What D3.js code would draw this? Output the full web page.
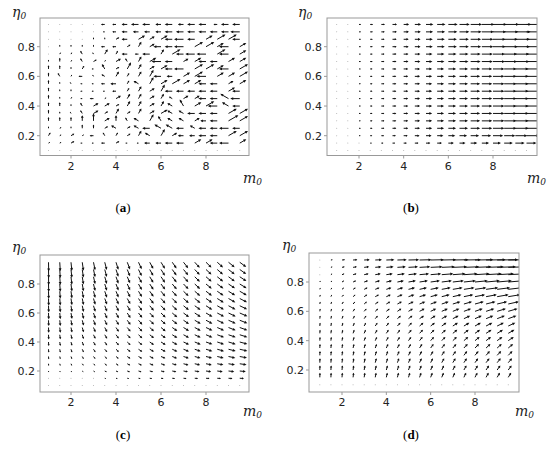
<!DOCTYPE html>
<html>
<head>
<meta charset="utf-8">
<script src="https://cdn.jsdelivr.net/npm/d3@7"></script>
<style>
  body { margin: 0; background: #fff; }
  svg { font-family: "DejaVu Sans", sans-serif; }
</style>
</head>
<body>
<svg id="chart" width="550" height="459"></svg>
<script>
// Gitterpunkte (gleich fuer alle Felder)
const mValues = [1, 1.5, 2, 2.5, 3, 3.5, 4, 4.5, 5, 5.5, 6, 6.5, 7, 7.5, 8, 8.5, 9, 9.5];
const etaValues = [0.95, 0.9, 0.85, 0.8, 0.75, 0.7, 0.65, 0.6, 0.55, 0.5, 0.45, 0.4, 0.35, 0.3, 0.25, 0.2, 0.15, 0.1];
const xTicks = [2, 4, 6, 8];
const yTicks = [0.2, 0.4, 0.6, 0.8];

// (a) geschaetzte Richtung (Vielfache von 30 Grad) und Laenge je Zelle, Zeilen von oben
const angleA = [
  "000000000000000000", "000000000000000000", "333333505550005550", "333330054500055505",
  "344224400045000505", "334254524500550055", "333402544550055505", "324021444400550555",
  "332000041455550055", "333000044540000050", "334005544541550010", "333255544541255010",
  "332255454551100055", "333335321421150055", "353335151011010000", "455502454145000055",
  "555000500000055005", "000000000000000000"
];
const lenA = [
  "000002234434344244", "000001233334444445", "000011234344544554", "011112223344555454",
  "011213232435455554", "121221323454344444", "221213243344555455", "221212323443455445",
  "211112323445444434", "211111223344444444", "211121333332334455", "221233233333445544",
  "211232323343344455", "222343323433333465", "111222323444434454", "212122223343334455",
  "112112211334444454", "000000000000000000"
];

// (b) horizontale Komponente je Spalte und Zeilenfaktor
const uColB = [0.5, 1, 1.8, 2.5, 3.2, 4, 4.8, 5.5, 6.5, 7.3, 8.2, 9, 10, 11, 12, 13, 14, 15];
const rowB = [1.2, 1.15, 1.1, 1.1, 1.05, 1.05, 1, 1, 1, 1, 1, 1, 1, 1, 1, 0.9, 0.7, 0.08];

// (c) rechts-unten gerichtet
const uColC = [0.3, 0.8, 1.3, 1.8, 2.4, 3, 3.5, 4.1, 4.7, 5.2, 5.8, 6.3, 6.9, 7.4, 8, 8.5, 9, 9.5];
const vColC = [1, 0.98, 0.95, 0.92, 0.88, 0.85, 0.82, 0.78, 0.75, 0.72, 0.7, 0.67, 0.64, 0.61, 0.58, 0.56, 0.54, 0.52];
const vRowC = [11.5, 11, 10.5, 10, 9.5, 9, 8.5, 8, 7.3, 6.6, 5.8, 5, 4.2, 3.3, 2.5, 1.5, 0.6, 0.1];
const uRowC = [0.85, 0.85, 0.87, 0.9, 0.92, 0.95, 0.97, 1, 1, 1, 1, 1, 1, 0.95, 0.9, 0.8, 0.55, 0.05];

// (d) rechts-oben gerichtet
const uColD = [1, 2, 3.5, 5, 6.5, 8, 9.5, 11, 12.5, 14, 15.5, 17, 18.5, 20, 21.5, 23, 24.5, 26];
const uRowD = [1, 0.9, 0.8, 0.7, 0.62, 0.55, 0.48, 0.42, 0.37, 0.32, 0.28, 0.25, 0.22, 0.19, 0.17, 0.15, 0.13, 0.01];
const vRowD = [0.3, 0.6, 1, 1.4, 1.8, 2.2, 2.6, 3, 3.3, 3.6, 3.9, 4.2, 4.5, 4.7, 4.9, 5.1, 5.2, 0.1];

// Panels: Pixel der Ticks 2/8 und 0.2/0.8 plus Rahmen
const panels = [
  { key: 'a', x2: 71, x8: 206, y2: 135.7, y8: 46.7, box: [40, 18, 249, 155.5], eta: [12, 17], m: [243, 183], cap: [123, 212] },
  { key: 'b', x2: 359, x8: 493, y2: 135.7, y8: 46.7, box: [327, 18, 537, 155.5], eta: [298, 17], m: [527, 183], cap: [411, 212] },
  { key: 'c', x2: 71, x8: 206, y2: 371, y8: 284, box: [40, 255, 249, 392], eta: [12, 252], m: [243, 416], cap: [123, 439] },
  { key: 'd', x2: 342, x8: 475, y2: 370, y8: 282, box: [309, 253, 519, 392], eta: [282, 250], m: [515, 416], cap: [411, 439] }
];

function vectorFor(key, r, c) {
  if (key === 'a') {
    const a = +angleA[r][c] * Math.PI / 6;
    const l = +lenA[r][c] * 1.9;
    return [-Math.cos(a) * l, Math.sin(a) * l];
  }
  if (key === 'b') return [uColB[c] * rowB[r] * 0.95, 0];
  if (key === 'c') return [uColC[c] * uRowC[r] * 0.8, -vRowC[r] * vColC[c] * 0.8];
  return [uColD[c] * uRowD[r] * 0.85, vRowD[r] * 0.9];
}

const svg = d3.select('#chart');

panels.forEach((p, i) => {
  const x = d3.scaleLinear().domain([2, 8]).range([p.x2, p.x8]);
  const y = d3.scaleLinear().domain([0.2, 0.8]).range([p.y2, p.y8]);
  const [bx0, by0, bx1, by1] = p.box;

  const g = svg.append('g');
  g.append('clipPath').attr('id', 'clip' + i)
    .append('rect').attr('x', bx0).attr('y', by0).attr('width', bx1 - bx0).attr('height', by1 - by0);

  // Pfeile
  const ag = g.append('g').attr('clip-path', `url(#clip${i})`);
  etaValues.forEach((eta, r) => {
    mValues.forEach((m, c) => {
      const [dx, dy] = vectorFor(p.key, r, c);
      const x0 = x(m), y0 = y(eta);
      const len = Math.hypot(dx, dy);
      if (len < 1.2) {
        ag.append('circle').attr('cx', x0).attr('cy', y0).attr('r', 0.5).attr('fill', '#aaa');
        return;
      }
      const ux = dx / len, uy = -dy / len;
      const x1 = x0 + dx, y1 = y0 - dy;
      const hl = Math.min(3, len * 0.45), hw = Math.min(1.4, len * 0.25);
      ag.append('line').attr('x1', x0).attr('y1', y0).attr('x2', x1 - ux * hl * 0.5).attr('y2', y1 - uy * hl * 0.5)
        .attr('stroke', '#111').attr('stroke-width', 1);
      ag.append('path')
        .attr('d', `M${x1},${y1}L${x1 - ux * hl - uy * hw},${y1 - uy * hl + ux * hw}L${x1 - ux * hl + uy * hw},${y1 - uy * hl - ux * hw}Z`)
        .attr('fill', '#111');
    });
  });

  // Rahmen
  g.append('rect').attr('x', bx0).attr('y', by0).attr('width', bx1 - bx0).attr('height', by1 - by0)
    .attr('fill', 'none').attr('stroke', '#999').attr('stroke-width', 1);

  // Achsen
  g.selectAll('.xt').data(xTicks).enter().append('text')
    .attr('x', d => x(d)).attr('y', by1 + 14).attr('text-anchor', 'middle')
    .style('font-size', '11px').style('fill', '#222').text(d => d);
  g.selectAll('.xtl').data(xTicks).enter().append('line')
    .attr('x1', d => x(d)).attr('x2', d => x(d)).attr('y1', by1).attr('y2', by1 + 3).attr('stroke', '#999');
  g.selectAll('.yt').data(yTicks).enter().append('text')
    .attr('x', bx0 - 5).attr('y', d => y(d) + 4).attr('text-anchor', 'end')
    .style('font-size', '11px').style('fill', '#222').text(d => d.toFixed(1));
  g.selectAll('.ytl').data(yTicks).enter().append('line')
    .attr('y1', d => y(d)).attr('y2', d => y(d)).attr('x1', bx0 - 3).attr('x2', bx0).attr('stroke', '#999');

  // Achsentitel
  const et = g.append('text').attr('x', p.eta[0]).attr('y', p.eta[1])
    .style('font-family', '"DejaVu Serif", serif').style('font-style', 'italic').style('font-size', '14px').style('fill', '#222');
  et.append('tspan').text('η');
  et.append('tspan').attr('dy', 2).style('font-size', '9px').text('0');
  const mt = g.append('text').attr('x', p.m[0]).attr('y', p.m[1])
    .style('font-family', '"DejaVu Serif", serif').style('font-style', 'italic').style('font-size', '14px').style('fill', '#222');
  mt.append('tspan').text('m');
  mt.append('tspan').attr('dy', 2).style('font-size', '9px').text('0');

  // Untertitel
  const cap = g.append('text').attr('x', p.cap[0]).attr('y', p.cap[1]).attr('text-anchor', 'middle')
    .style('font-family', '"Liberation Serif", serif').style('font-size', '13px');
  cap.append('tspan').text('(');
  cap.append('tspan').style('font-weight', 'bold').text(p.key);
  cap.append('tspan').text(')');
});
</script>
</body>
</html>
